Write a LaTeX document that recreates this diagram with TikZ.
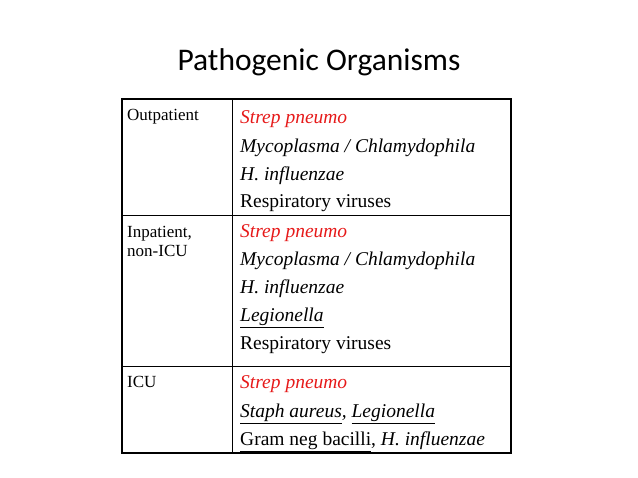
\documentclass[tikz,border=0pt]{standalone}
\usepackage{fontspec}
\setmainfont{Liberation Serif}
\newfontfamily\titlefont{Carlito}
\definecolor{strep}{RGB}{230,25,25}
\newcommand\myul[1]{\underline{\vphantom{g}#1}}
\begin{document}
\begin{tikzpicture}[x=1pt,y=-1pt,
  lab/.style={anchor=base west,inner sep=0pt,font=\fontsize{17}{19}\selectfont},
  org/.style={anchor=base west,inner sep=0pt,font=\fontsize{19.5}{22}\selectfont},
  rule/.style={line width=1.1pt}]
\useasboundingbox (0,0) rectangle (638,478);
\node[font=\titlefont\fontsize{31.5}{36}\selectfont] (title) at (319,62) {Pathogenic Organisms};
\draw[rule] (122,99) rectangle (511,453);
\draw[line width=0.8pt] (232,99) -- (232,453);
\draw[line width=0.8pt] (122,215) -- (511,215);
\draw[line width=0.8pt] (122,366) -- (511,366);
\node[lab] (o) at (127,121) {Outpatient};
\node[lab] (i1) at (127,238) {Inpatient,};
\node[lab] (i2) at (127,257) {non-ICU};
\node[lab] (c) at (127,388) {ICU};
\node[org,text=strep] (a1) at (240,124) {\itshape Strep pneumo};
\node[org] (a2) at (240,153) {\itshape Mycoplasma / Chlamydophila};
\node[org] (a3) at (240,181) {\itshape H. influenzae};
\node[org] (a4) at (240,208) {Respiratory viruses};
\node[org,text=strep] (b1) at (240,238) {\itshape Strep pneumo};
\node[org] (b2) at (240,266) {\itshape Mycoplasma / Chlamydophila};
\node[org] (b3) at (240,294) {\itshape H. influenzae};
\node[org] (b4) at (240,322) {\itshape\myul{Legionella}};
\node[org] (b5) at (240,350) {Respiratory viruses};
\node[org,text=strep] (c1) at (240,389) {\itshape Strep pneumo};
\node[org] (c2) at (240,418) {\itshape\myul{Staph aureus}, \myul{Legionella}};
\node[org] (c3) at (240,446) {\myul{Gram neg bacilli}, \itshape H. influenzae};
\end{tikzpicture}
\end{document}
